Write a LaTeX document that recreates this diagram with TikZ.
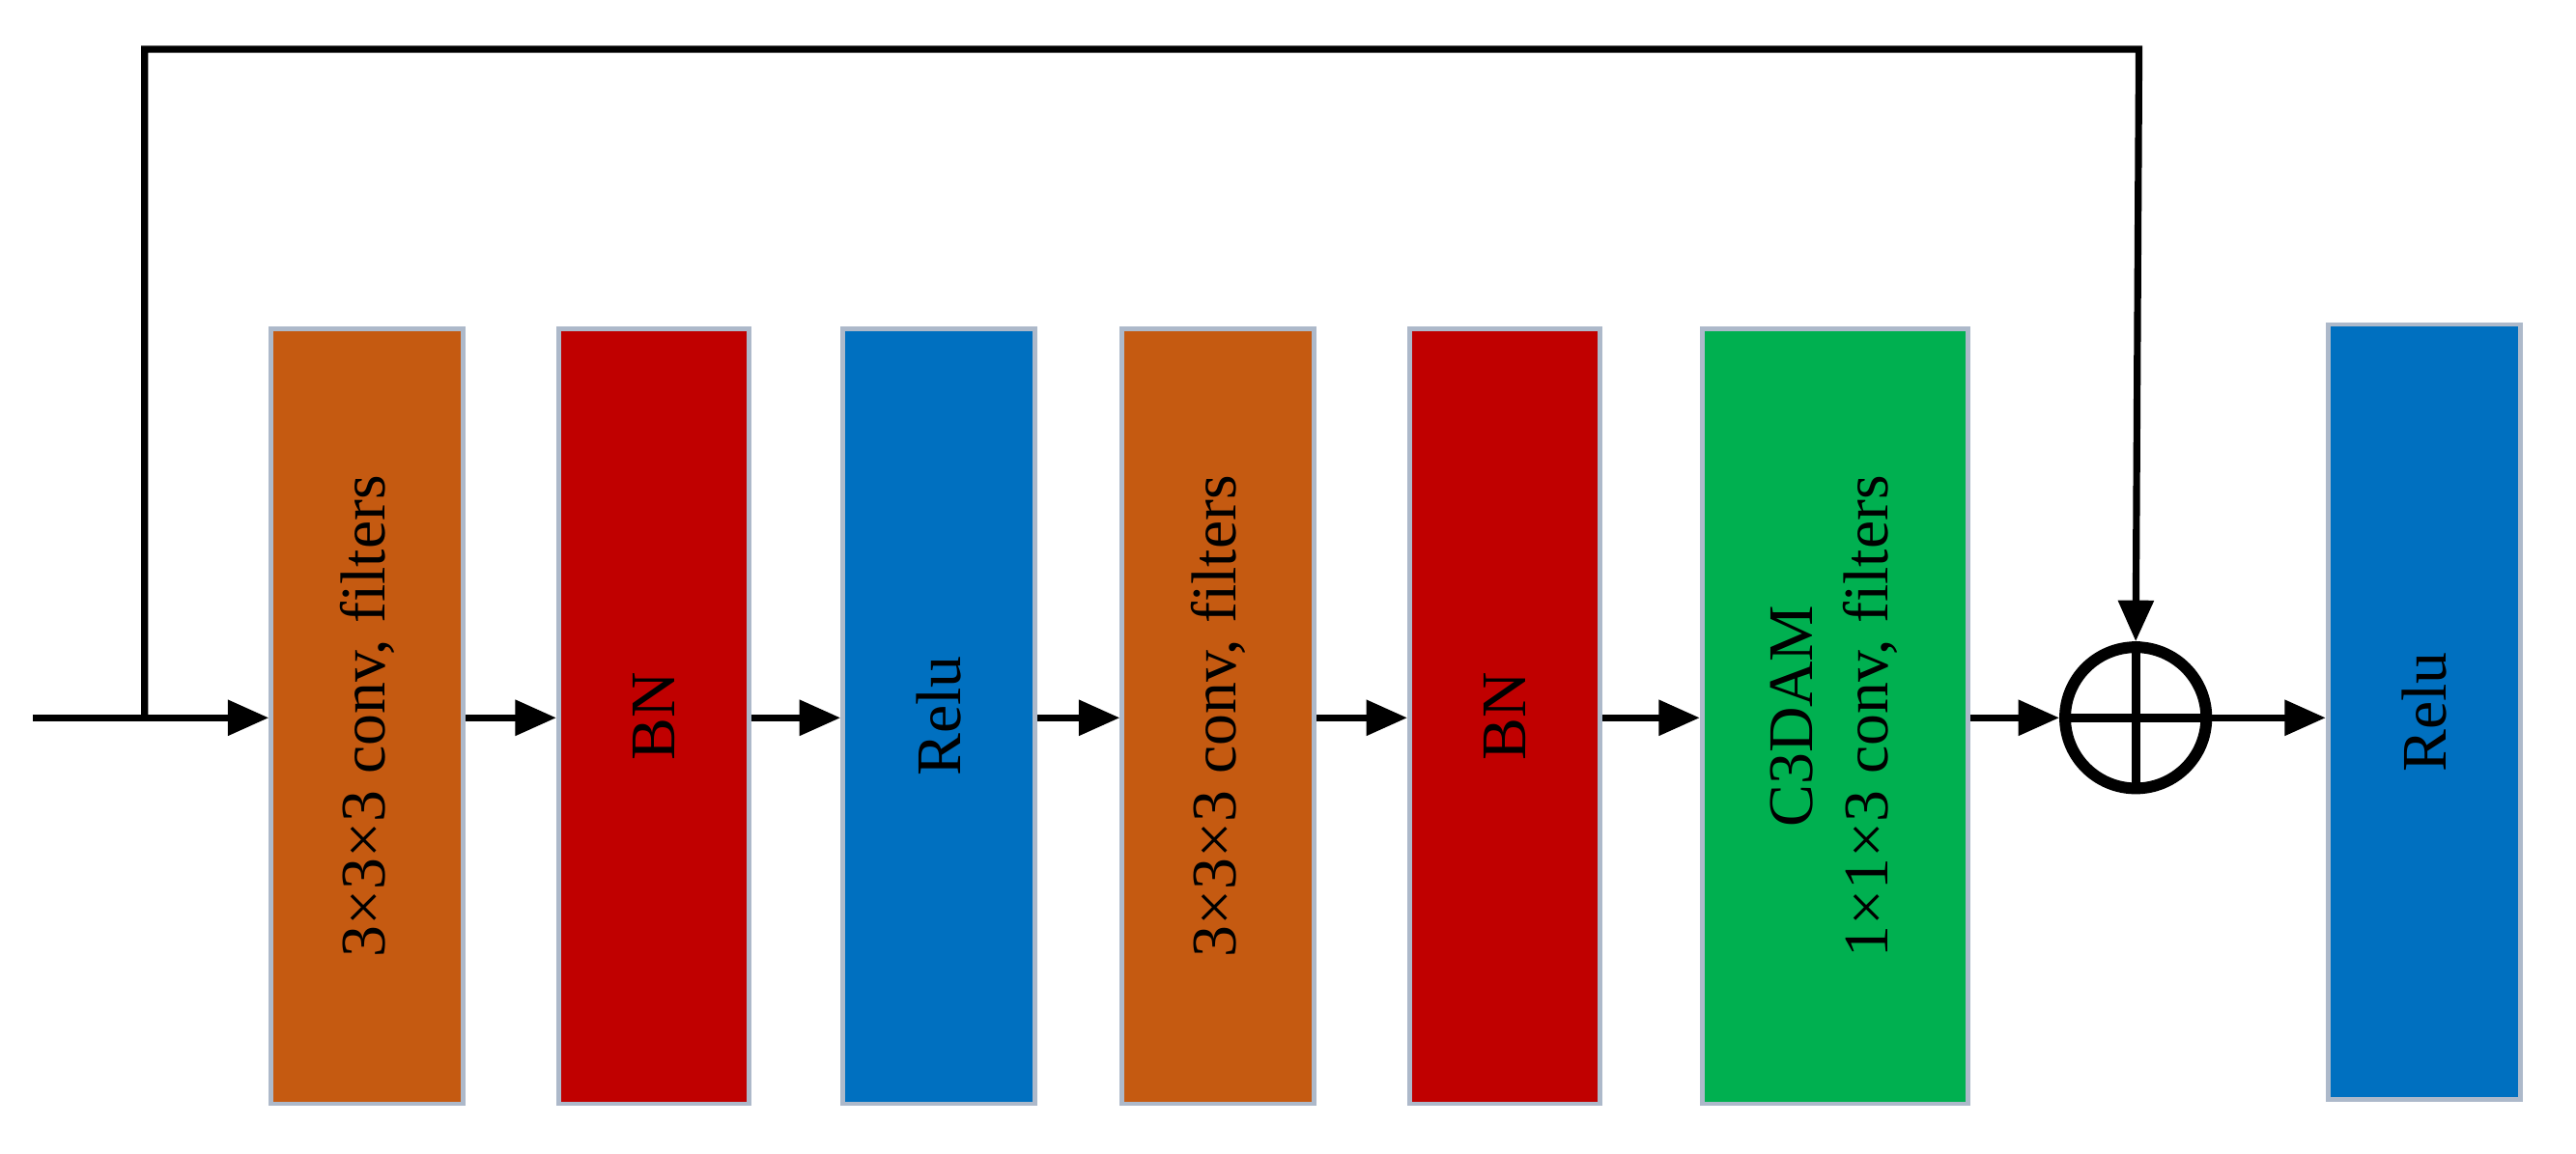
\documentclass[tikz,border=0pt]{standalone}
\usepackage{fontspec}
\setmainfont{Liberation Serif}
\usetikzlibrary{arrows.meta}
\begin{document}
\begin{tikzpicture}[x=0.02cm,y=-0.02cm,
  blk/.style={draw={rgb,255:red,173;green,185;blue,202},line width=1.6pt,minimum height=9.44cm,inner sep=0pt,font=\fontsize{22}{26}\selectfont,text=black},
  arr/.style={line width=2.4pt,-{Triangle[length=0.5cm,width=0.42cm]}}]
\useasboundingbox (0,0) rectangle (1568,702);
\definecolor{cor}{RGB}{197,90,17}
\definecolor{cred}{RGB}{192,0,0}
\definecolor{cblu}{RGB}{0,112,192}
\definecolor{cgrn}{RGB}{0,176,80}
\node[blk,fill=cor,minimum width=2.34cm] (b1) at (223.5,436) {\rotatebox{90}{3×3×3 conv, filters}};
\node[blk,fill=cred,minimum width=2.32cm] (b2) at (398,436) {\rotatebox{90}{BN}};
\node[blk,fill=cblu,minimum width=2.34cm] (b3) at (571.5,436) {\rotatebox{90}{Relu}};
\node[blk,fill=cor,minimum width=2.34cm] (b4) at (741.5,436) {\rotatebox{90}{3×3×3 conv, filters}};
\node[blk,fill=cred,minimum width=2.32cm] (b5) at (916,436) {\rotatebox{90}{BN}};
\node[blk,fill=cgrn,minimum width=3.24cm] (b6) at (1117,436) {\rotatebox{90}{\begin{tabular}{c}C3DAM\\1×1×3 conv, filters\end{tabular}}};
\node[blk,fill=cblu,minimum width=2.34cm] (b7) at (1475.5,433.5) {\rotatebox{90}{Relu}};
\node[circle,draw,line width=4pt,minimum size=1.72cm,inner sep=0pt] (p) at (1300,437) {};
\draw[line width=3pt] (p.north) -- (p.south) (p.west) -- (p.east);
\coordinate (in) at (20,437);
\coordinate (sp) at (88,437);
\draw[arr] (in) -- (b1.west|-in);
\draw[arr] (sp) -- (88,30) -- (1302,30) -- (p.north);
\draw[arr] (b1.east|-in) -- (b2.west|-in);
\draw[arr] (b2.east|-in) -- (b3.west|-in);
\draw[arr] (b3.east|-in) -- (b4.west|-in);
\draw[arr] (b4.east|-in) -- (b5.west|-in);
\draw[arr] (b5.east|-in) -- (b6.west|-in);
\draw[arr] (b6.east|-in) -- (p.west);
\draw[arr] (p.east) -- (b7.west|-in);
\end{tikzpicture}
\end{document}
